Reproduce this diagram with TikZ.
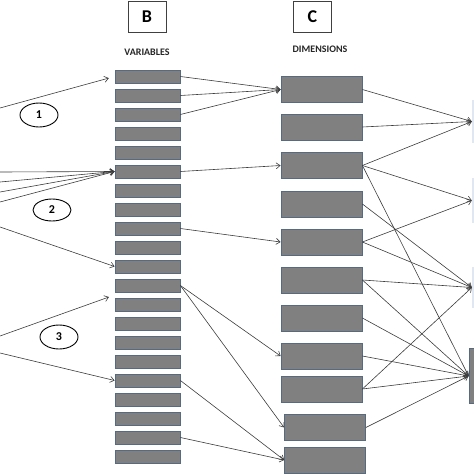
\documentclass[tikz,border=0pt]{standalone}
\usepackage{xcolor}
\usepackage{fontspec}
\setsansfont{Carlito}
\usepackage{tikz}
\usetikzlibrary{arrows.meta,calc,positioning,shapes.geometric}

\definecolor{boxgray}{RGB}{128,128,128}
\definecolor{boxedge}{RGB}{86,106,130}
\definecolor{palebox}{RGB}{224,231,240}
\definecolor{linegray}{RGB}{60,60,60}

\begin{document}
\begin{tikzpicture}[x=1pt, y=-1pt, font=\sffamily\bfseries]
    \useasboundingbox (0,0) rectangle (474,474);
    \def\Vx{147.5}
    \tikzset{varnode/.style={rectangle, draw=boxedge, fill=boxgray, line width=0.8pt, minimum width=65pt, minimum height=13pt, inner sep=0pt}}
    \tikzset{dimnode/.style={rectangle, draw=boxedge, fill=boxgray, line width=0.8pt, minimum width=81pt, minimum height=26pt, inner sep=0pt}}
    \tikzset{headnode/.style={rectangle, draw=black!75, fill=white, line width=0.8pt, minimum width=38pt, minimum height=31pt, inner sep=0pt, font=\sffamily\bfseries\fontsize{18}{18}\selectfont}}
    \tikzset{grpnode/.style={ellipse, draw=black, fill=white, line width=0.9pt, minimum width=38pt, minimum height=24pt, inner sep=0pt, font=\sffamily\bfseries\fontsize{12}{12}\selectfont}}
    \tikzset{collabel/.style={font=\sffamily\bfseries\fontsize{10}{10}\selectfont, text=black!85}}
    \tikzset{conn/.style={draw=linegray, line width=0.6pt, -{Straight Barb[length=4pt,width=6pt]}}}

    % HEADERS
    \node[headnode] (HB) at (147,16.5) {B};
    \node[headnode] (HC) at (312.5,16.5) {C};
    \node[collabel] (varlab) at (147,52) {VARIABLES};
    \node[collabel] (dimlab) at (320,49) {DIMENSIONS};

    % VARIABLE BOXES
    \foreach \k in {1,...,21} {
        \pgfmathsetmacro{\Vy}{76.5 + (\k-1)*19}
        \node[varnode] (V\k) at (\Vx,\Vy) {};
    }

    % DIMENSION BOXES
    \foreach \k/\x/\y in {1/321.5/89.5, 2/321.5/127, 3/321.5/165.5, 4/321.5/204, 5/321.5/242,
                          6/321.5/280, 7/321.5/318, 8/321.5/356, 9/321.5/389, 10/325/427.5, 11/325/460} {
        \node[dimnode] (C\k) at (\x,\y) {};
    }

    % RIGHT COLUMN (CUT OFF)
    \node[rectangle, fill=palebox, minimum width=10pt, minimum height=43pt, inner sep=0pt] (D1) at (477,121.5) {};
    \node[rectangle, fill=palebox, minimum width=10pt, minimum height=45pt, inner sep=0pt] (D2) at (477,200.5) {};
    \node[rectangle, fill=palebox, minimum width=10pt, minimum height=41pt, inner sep=0pt] (D3) at (477,287.5) {};
    \node[rectangle, draw=boxedge, fill=boxgray, line width=0.8pt, minimum width=10pt, minimum height=55pt, inner sep=0pt] (D4) at (474,376) {};

    % GROUP LABELS
    \node[grpnode] (G1) at (39,115) {1};
    \node[grpnode, minimum height=22pt] (G2) at (52,210) {2};
    \node[grpnode] (G3) at (59,337) {3};

    % INCOMING EDGES
    \coordinate (s1) at (0,108);
    \coordinate (s2b) at (0,227);
    \coordinate (s3a) at (0,336);
    \coordinate (s3b) at (0,353);
    \draw[conn, shorten >=6pt] (s1) -- (V1.west);
    \foreach \y [count=\i] in {172,182,192,202} {
        \coordinate (s2\i) at (0,\y);
        \draw[conn] (s2\i) -- (V6.west);
    }
    \draw[conn] (s2b) -- (V11.west);
    \draw[conn, shorten >=6pt] (s3a) -- ($(V12.west)!0.5!(V13.west)$);
    \draw[conn] (s3b) -- (V17.west);

    % VARIABLES TO DIMENSIONS
    \foreach \a/\b in {1/1, 2/1, 3/1, 6/3, 9/5, 12/8, 12/10, 17/11, 20/11}
        \draw[conn] (V\a.east) -- (C\b.west);

    % DIMENSIONS TO RIGHT COLUMN
    \foreach \a/\b in {1/1, 2/1, 3/1, 3/2, 3/4, 4/3, 5/2, 5/3, 6/3, 6/4, 7/4, 8/4, 9/3, 9/4, 10/4}
        \draw[conn] (C\a.east) -- (D\b.west);
\end{tikzpicture}
\end{document}
